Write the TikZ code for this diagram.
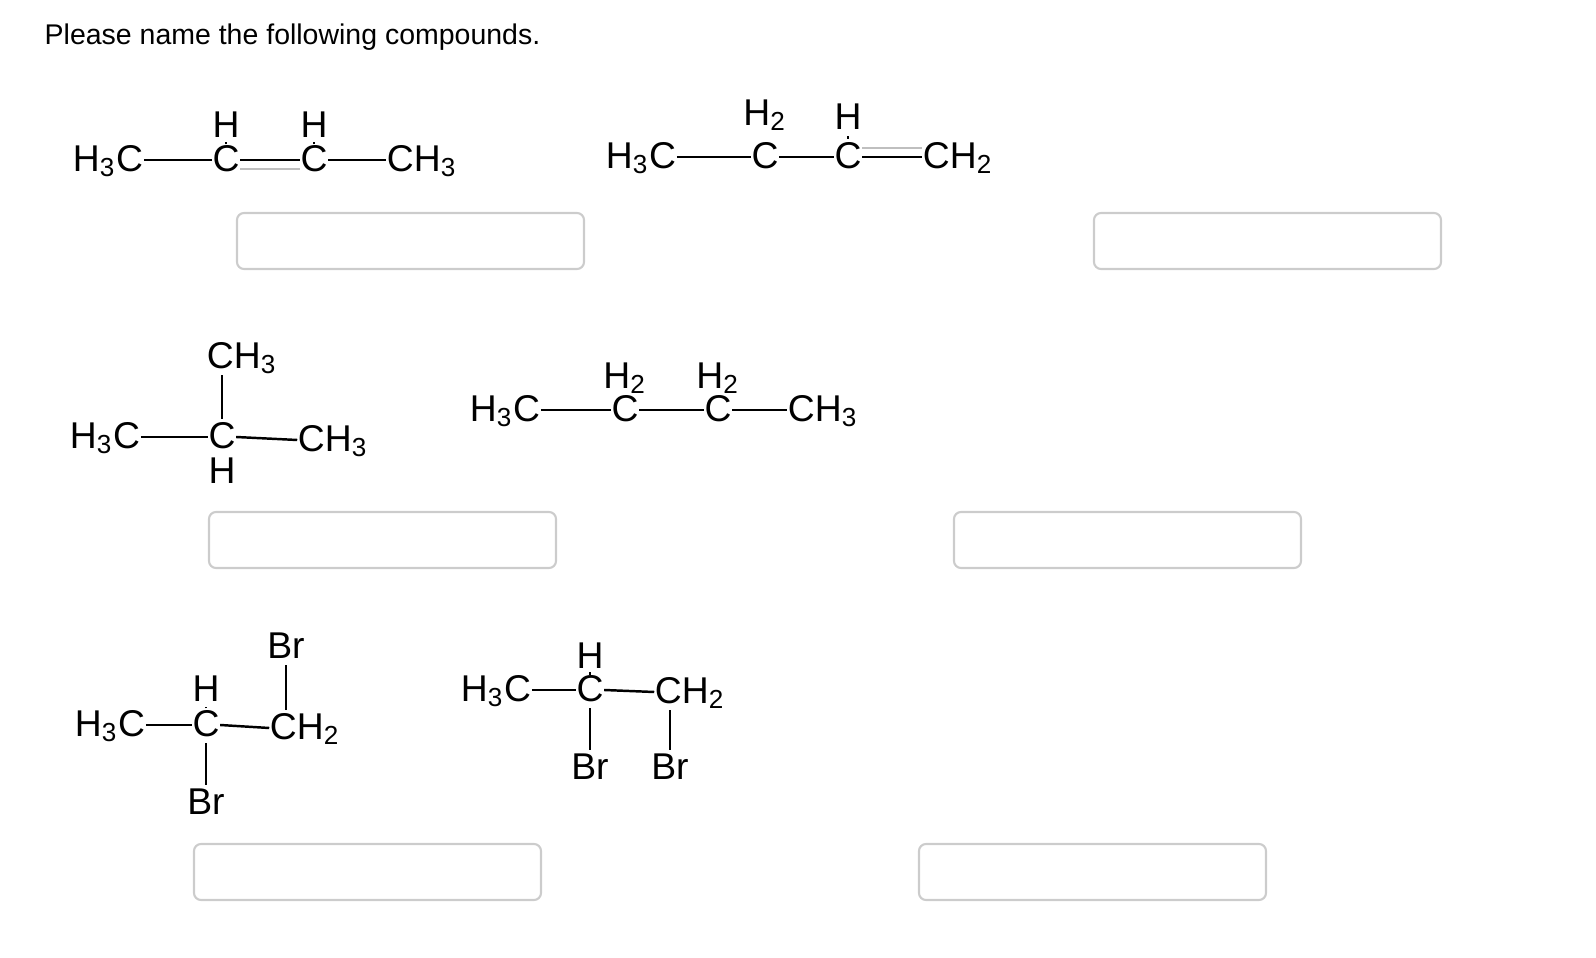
\documentclass[tikz,border=0pt]{standalone}
\usepackage{fontspec}
\setmainfont{Liberation Sans}
\newcommand{\sbs}[1]{\textsubscript{#1}}
\begin{document}
\begin{tikzpicture}[x=0.01cm,y=-0.01cm,
  atm/.style={inner sep=0pt,font=\fontsize{10.6}{12}\selectfont,text height=1.55ex,text depth=0.35ex},
  bd/.style={line width=0.7pt},
  dbl/.style={line width=0.7pt,gray!50},
  ans/.style={draw=gray!40,line width=0.6pt,rounded corners=2pt}]
\useasboundingbox (0,0) rectangle (1596,958);
\node[anchor=west,inner sep=0pt,font=\fontsize{8.1}{10}\selectfont] (title) at (44,37) {Please name the following compounds.};
% answer boxes
\draw[ans] (237,213) rectangle (584,269);
\draw[ans] (1094,213) rectangle (1441,269);
\draw[ans] (209,512) rectangle (556,568);
\draw[ans] (954,512) rectangle (1301,568);
\draw[ans] (194,844) rectangle (541,900);
\draw[ans] (919,844) rectangle (1266,900);
% compound 1
\node[atm] (a1) at (108,160) {H\sbs{3}C};
\node[atm] (a2) at (226,160) {C};
\node[atm] (a3) at (314,160) {C};
\node[atm] (a4) at (422,160) {CH\sbs{3}};
\node[atm] (h2) at (226,126) {H};
\node[atm] (h3) at (314,126) {H};
\draw[bd] (a1.east) -- (a2.west);
\draw[bd] (a2.east) -- (a3.west);
\draw[dbl] ([yshift=-2.5pt]a2.east) -- ([yshift=-2.5pt]a3.west);
\draw[bd] (a3.east) -- (a4.west);
\draw[bd] (h2.south) -- (a2.north);
\draw[bd] (h3.south) -- (a3.north);
% compound 2
\node[atm] (b1) at (641,157) {H\sbs{3}C};
\node[atm] (b2) at (765,157) {C};
\node[atm] (b3) at (848,157) {C};
\node[atm] (b4) at (958,157) {CH\sbs{2}};
\node[atm] (bh2) at (765,114) {H\sbs{2}};
\node[atm] (bh3) at (848,118) {H};
\draw[bd] (b1.east) -- (b2.west);
\draw[bd] (b2.east) -- (b3.west);
\draw[bd] (b3.east) -- (b4.west);
\draw[dbl] ([yshift=2.5pt]b3.east) -- ([yshift=2.5pt]b4.west);
\draw[bd] (bh3.south) -- (b3.north);
% compound 3
\node[atm] (c0) at (242,357) {CH\sbs{3}};
\node[atm] (c1) at (105,437) {H\sbs{3}C};
\node[atm] (c2) at (222,437) {C};
\node[atm] (c3) at (333,440) {CH\sbs{3}};
\node[atm] (ch) at (222,472) {H};
\draw[bd] (c1.east) -- (c2.west);
\draw[bd] (c2.east) -- (c3.west);
\draw[bd] (c0.south -| c2) -- (c2.north);
% compound 4
\node[atm] (d1) at (505,410) {H\sbs{3}C};
\node[atm] (d2) at (625,410) {C};
\node[atm] (d3) at (718,410) {C};
\node[atm] (d4) at (823,410) {CH\sbs{3}};
\node[atm] (dh2) at (625,377) {H\sbs{2}};
\node[atm] (dh3) at (718,377) {H\sbs{2}};
\draw[bd] (d1.east) -- (d2.west);
\draw[bd] (d2.east) -- (d3.west);
\draw[bd] (d3.east) -- (d4.west);
% compound 5
\node[atm] (e0) at (286,647) {Br};
\node[atm] (e1) at (110,725) {H\sbs{3}C};
\node[atm] (e2) at (206,725) {C};
\node[atm] (e3) at (305,728) {CH\sbs{2}};
\node[atm] (eh) at (206,690) {H};
\node[atm] (eb) at (206,803) {Br};
\draw[bd] (e1.east) -- (e2.west);
\draw[bd] (e2.east) -- (e3.west);
\draw[bd] (e0.south) -- (e0.south |- e3.north);
\draw[bd] (eh.south) -- (e2.north);
\draw[bd] (e2.south) -- (eb.north);
% compound 6
\node[atm] (f1) at (496,690) {H\sbs{3}C};
\node[atm] (f2) at (590,690) {C};
\node[atm] (f3) at (690,692) {CH\sbs{2}};
\node[atm] (fh) at (590,657) {H};
\node[atm] (fb1) at (590,768) {Br};
\node[atm] (fb2) at (670,768) {Br};
\draw[bd] (f1.east) -- (f2.west);
\draw[bd] (f2.east) -- (f3.west);
\draw[bd] (fh.south) -- (f2.north);
\draw[bd] (f2.south) -- (fb1.north);
\draw[bd] (fb2.north) -- (fb2.north |- f3.south);
\end{tikzpicture}
\end{document}
